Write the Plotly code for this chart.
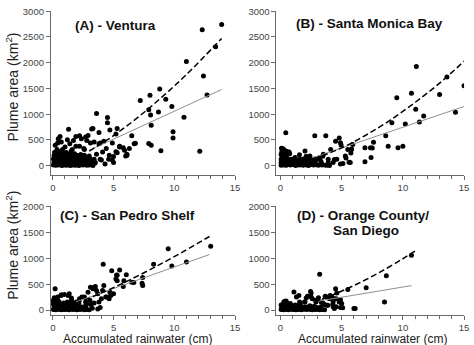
import plotly.graph_objects as go

# ---------------- data ----------------
# Panel A - Ventura
a_x = [12.3,13.9,13.4,11.0,12.4,12.7,10.8,12.1,8.8,8.0,7.2,9.3,7.9,8.7,9.8,8.05,8.1,9.9,
       9.9,7.9,8.1,8.9,6.8,6.5,6.3,6.0,3.6,4.5,4.5,4.7,5.3,5.2,3.3,1.3,2.2,2.7,
       3.1,3.8,4.2,3.9,4.9,5.5,5.8,5.3,5.0,4.6,4.1,3.6,3.4,3.0,2.6,2.3,1.9,1.6,1.2,0.8,
       0.4,0.35,0.6,0.9,1.5,2.0,2.4,2.8,3.5,3.9,4.3,5.0,6.1,
       5.9,6.1,6.7,5.5,5.2,4.4,4.65,4.9,4.0,3.2,2.9,1.9,2.35,2.8,3.4,3.8,0.45,0.7,0.2,1.4,1.7,1.0,2.2,2.55,
       0.05,0.15,0.25,0.35,0.45,0.55,0.65,0.75,0.85,0.95,1.05,1.15,1.25,1.35,1.45,1.55,1.65,1.75,1.85,1.95,2.05,2.15,2.3,2.45,2.6,2.8,3.0,3.3,
       0.1,0.2,0.3,0.4,0.5,0.6,0.7,0.8,0.9,1.0,1.1,1.2,1.3,1.4,1.5,1.6,1.7,1.8,1.9,2.0,2.1,2.25,2.4,2.55,2.7,2.9,3.15,3.45,
       0.05,0.2,0.35,0.5,0.65,0.8,0.95,1.1,1.25,1.4,1.55,1.7,1.85,2.0,2.15,2.3,2.5,2.65,2.85,3.05,0.3,1.0,
       0.1,0.3,0.5,0.7,0.9,1.2,1.4,1.6,1.8,2.05,2.3,2.6,0.15,0.6,1.1,1.5]
a_y = [2640,2741,2310,2026,1741,1374,943,279,1488,1367,1266,1291,1089,1044,1152,987,785,658,
       538,430,399,291,437,582,335,190,1013,937,835,696,722,614,722,709,582,557,
       443,646,475,443,443,380,348,253,177,127,266,222,127,190,316,190,380,316,506,316,
       443,316,570,222,222,127,95,63,63,127,32,63,222,
       301,206,429,366,271,334,206,111,111,715,588,569,525,492,461,429,525,461,397,429,492,366,378,334,
       15,30,8,25,12,35,20,5,28,14,22,9,31,18,6,26,13,33,10,24,17,7,29,12,20,8,15,5,
       70,85,60,95,75,65,90,80,55,100,70,88,62,78,95,68,84,58,92,74,66,86,60,80,72,55,65,50,
       130,150,120,160,140,125,155,135,145,120,165,130,150,140,125,160,130,145,120,135,190,185,
       200,215,230,195,240,205,225,210,235,200,220,205,260,270,255,280]
a_dash_x = [3.0, 5.0, 7.0, 9.0, 11.0, 13.9]
a_dash_y = [285, 585, 938, 1336, 1770, 2470]
a_lin_x = [3.0, 13.9]
a_lin_y = [300, 1480]

# Panel B - Santa Monica Bay
b_x = [11.1,15.0,13.6,13.0,10.7,9.5,11.05,11.7,14.3,11.35,10.2,9.1,8.6,8.8,9.6,10.0,7.6,7.35,6.9,7.4,
       6.9,0.43,2.8,3.7,4.8,4.9,4.5,4.1,5.9,5.8,5.5,5.3,4.6,4.3,4.9,5.7,3.5,3.2,3.0,3.9,
       2.4,2.0,1.6,1.2,0.7,0.55,0.2,0.14,0.27,0.95,1.9,2.7,3.4,3.8,
       5.8,5.75,7.5,5.35,5.6,5.1,4.4,3.9,3.3,3.45,2.8,2.1,1.55,1.15,0.75,0.35,0.2,4.95,
       0.05,0.15,0.25,0.35,0.45,0.55,0.65,0.8,0.95,1.1,1.25,1.4,1.55,1.7,1.85,2.0,2.15,2.3,2.5,2.7,2.9,3.1,3.4,3.7,4.0,
       0.05,0.15,0.3,0.45,0.6,0.75,0.9,1.05,1.2,1.35,1.5,1.65,1.8,1.95,2.1,2.25,2.4,2.6,2.85,
       0.05,0.12,0.2,0.3,0.4,0.5,0.6,0.7,0.85,1.0,1.3,1.6,1.9,2.2,2.5,
       0.05,0.1,0.15,0.25,0.35,0.5,0.08,0.18]
b_y = [1927,1553,1724,1382,1407,1319,1097,964,1040,850,812,837,583,380,349,380,456,349,349,158,
       76,640,583,583,539,444,476,317,412,317,317,190,127,63,32,63,222,158,127,127,
       190,285,127,158,266,222,178,330,317,95,63,44,32,13,
       323,247,342,152,70,44,120,57,89,184,133,184,215,152,234,247,323,405,
       10,25,15,30,8,20,35,12,28,18,6,24,14,32,10,22,16,5,26,12,20,8,15,10,5,
       60,80,55,95,70,50,85,65,75,55,90,60,70,50,80,65,55,72,60,
       120,160,140,180,110,150,130,115,125,105,110,120,130,140,115,
       220,260,300,240,210,280,340,330]
b_dash_x = [2.7, 5.0, 7.0, 9.0, 11.0, 13.0, 15.0]
b_dash_y = [130, 347, 597, 891, 1230, 1603, 2030]
b_lin_x = [2.7, 15.0]
b_lin_y = [160, 1150]

# Panel C - San Pedro Shelf
c_x = [13.0,9.5,4.15,8.3,9.8,11.0,5.5,4.85,5.25,6.05,5.3,6.5,5.8,7.4,7.35,7.4,4.2,3.5,3.3,3.6,
       3.1,4.7,5.0,4.45,4.0,3.8,3.9,3.4,3.05,2.7,2.4,2.15,1.9,1.55,1.35,0.67,0.19,0.95,0.4,1.2,
       1.6,2.55,3.25,2.8,
       5.3,3.4,4.1,4.36,4.64,4.77,3.7,2.9,2.6,2.2,1.93,1.53,1.26,0.71,3.15,3.7,2.74,5.85,5.2,6.67,
       0.05,0.15,0.25,0.35,0.45,0.55,0.65,0.75,0.85,0.95,1.05,1.15,1.25,1.35,1.5,1.65,1.8,1.95,2.1,2.25,2.4,2.6,2.8,3.0,
       0.1,0.2,0.3,0.4,0.5,0.6,0.7,0.8,0.9,1.0,1.1,1.2,1.3,1.45,1.6,1.75,1.9,2.05,2.2,2.35,2.5,2.7,
       0.05,0.15,0.3,0.45,0.6,0.75,0.9,1.1,1.3,1.5,1.7,1.9,2.1,
       0.05,0.1,0.2,0.35,0.5,0.12]
c_y = [1230,1186,883,883,852,928,776,757,675,681,568,536,454,631,517,473,473,454,410,379,
       441,347,316,252,221,158,50,139,189,158,252,126,95,189,316,284,410,303,252,158,
       63,50,38,126,
       673,440,377,251,220,283,315,346,251,220,157,232,283,296,107,19,94,566,598,534,
       10,25,8,20,30,12,22,5,28,15,10,24,18,6,26,12,20,8,16,10,22,5,14,8,
       60,75,50,85,65,55,80,70,50,90,60,72,55,80,65,50,75,60,70,55,62,50,
       120,140,110,150,125,105,135,115,130,110,125,105,115,
       180,210,170,195,165,240]
c_dash_x = [1.9, 4.0, 6.0, 8.0, 10.0, 12.9]
c_dash_y = [130, 328, 545, 780, 1031, 1420]
c_lin_x = [1.9, 12.9]
c_lin_y = [158, 1073]

# Panel D - Orange County / San Diego
d_x = [10.7,8.65,3.2,7.0,5.5,4.5,4.6,8.5,6.1,5.0,4.9,4.2,4.05,3.65,3.1,2.9,2.5,2.2,1.5,1.1,
       0.46,0.27,0.8,1.6,2.0,2.6,3.5,3.8,4.3,4.9,3.3,2.75,4.3,4.55,
       2.46,1.3,2.1,2.5,3.73,4.0,4.4,2.9,3.33,3.6,3.86,4.27,4.54,4.8,5.08,6.0,4.4,1.97,1.56,0.62,0.35,
       0.05,0.15,0.25,0.35,0.45,0.55,0.65,0.75,0.85,0.95,1.05,1.15,1.25,1.35,1.45,1.55,1.7,1.85,2.0,2.15,2.3,2.45,2.6,2.75,2.9,3.05,3.2,3.4,3.6,
       0.1,0.2,0.3,0.4,0.5,0.6,0.7,0.8,0.9,1.0,1.1,1.2,1.3,1.4,1.5,1.6,1.75,1.9,2.05,2.2,2.35,2.55,2.7,2.85,3.0,
       0.05,0.2,0.4,0.6,0.85,1.2,1.5,2.4]
d_y = [1060,662,694,429,398,410,328,158,32,126,202,252,284,265,240,158,328,265,284,347,
       177,158,126,126,158,221,126,95,63,50,63,76,158,221,
       358,251,233,251,251,220,220,189,157,107,94,107,63,157,44,32,32,157,157,126,170,
       10,22,8,18,28,12,5,20,15,25,10,18,6,22,12,28,8,16,20,10,25,14,6,18,10,22,8,14,5,
       50,65,45,75,55,40,70,60,45,80,50,62,42,70,55,48,65,40,58,50,68,45,55,40,50,
       100,110,95,105,90,100,95,85]
d_dash_x = [2.7, 4.0, 6.0, 8.0, 10.0, 11.1]
d_dash_y = [150, 265, 475, 716, 991, 1155]
d_lin_x = [2.7, 10.7]
d_lin_y = [158, 473]

panel_titles = ["(A) - Ventura", "(B) - Santa Monica Bay", "(C) - San Pedro Shelf",
                "(D) - Orange County/", "San Diego"]
y_title = "Plume area (km<sup>2</sup>)"
x_title = "Accumulated rainwater (cm)"
x_ticks = [0, 5, 10, 15]

# ---------------- figure ----------------
W, H = 474, 345
FONT = "Liberation Sans, Arial, Helvetica, sans-serif"
AXC = "#6a6a6a"

fig = go.Figure()
panels = [
    (a_x, a_y, a_dash_x, a_dash_y, a_lin_x, a_lin_y, "x", "y"),
    (b_x, b_y, b_dash_x, b_dash_y, b_lin_x, b_lin_y, "x2", "y2"),
    (c_x, c_y, c_dash_x, c_dash_y, c_lin_x, c_lin_y, "x3", "y3"),
    (d_x, d_y, d_dash_x, d_dash_y, d_lin_x, d_lin_y, "x4", "y4"),
]
for px, py, dx, dy, lx, ly, xa, ya in panels:
    fig.add_trace(go.Scatter(x=px, y=py, mode="markers", xaxis=xa, yaxis=ya,
                             marker=dict(size=5, color="black", line=dict(width=0)),
                             showlegend=False, hoverinfo="skip"))
    fig.add_trace(go.Scatter(x=lx, y=ly, mode="lines", xaxis=xa, yaxis=ya,
                             line=dict(color="#8f8f8f", width=1),
                             showlegend=False, hoverinfo="skip"))
    fig.add_trace(go.Scatter(x=dx, y=dy, mode="lines", xaxis=xa, yaxis=ya,
                             line=dict(color="black", width=1.5, dash="6px,3px", shape="spline"),
                             showlegend=False, hoverinfo="skip"))

def px_x(p):
    return p / W

def px_y(p):
    return 1 - p / H

def xaxis(domain, rng):
    return dict(domain=domain, range=rng, tickvals=x_ticks, showgrid=False, zeroline=False,
                showline=True, linecolor=AXC, linewidth=1, ticks="outside", ticklen=4,
                tickcolor=AXC, tickfont=dict(size=9.5, color="#444", family=FONT),
                minor=dict(ticks="outside", dtick=1, ticklen=2.5, tickcolor=AXC))

def yaxis(domain, rng, anchor):
    return dict(domain=domain, range=rng, dtick=500, showgrid=False, zeroline=False,
                showline=True, linecolor=AXC, linewidth=1, ticks="outside", ticklen=4,
                tickcolor=AXC, tickfont=dict(size=9.5, color="#444", family=FONT),
                anchor=anchor)

xl = [px_x(50.5), px_x(237)]
xr = [px_x(279), px_x(469)]
yt = [px_y(172), px_y(5.3)]
yb = [px_y(314.5), px_y(204)]

fig.update_layout(
    width=W, height=H, margin=dict(l=0, r=0, t=0, b=0),
    paper_bgcolor="white", plot_bgcolor="white",
    font=dict(family=FONT, color="#222"),
    xaxis=dict(xaxis(xl, [-0.16, 15]), anchor="y"),
    yaxis=yaxis(yt, [-180, 3000], "x"),
    xaxis2=dict(xaxis(xr, [-0.33, 15]), anchor="y2"),
    yaxis2=yaxis(yt, [-180, 3000], "x2"),
    xaxis3=dict(xaxis(xl, [-0.16, 15]), anchor="y3"),
    yaxis3=yaxis(yb, [-95, 2000], "x3"),
    xaxis4=dict(xaxis(xr, [-0.33, 15]), anchor="y4"),
    yaxis4=yaxis(yb, [-95, 2000], "x4"),
)

ann = []
title_pos = [(116, 20), (373, 18), (128, 213), (367, 213), (370, 228)]
for t, (cx, cy) in zip(panel_titles, title_pos):
    ann.append(dict(text="<b>%s</b>" % t, x=px_x(cx), y=px_y(cy), xref="paper", yref="paper",
                    showarrow=False, xanchor="center", yanchor="middle", align="center",
                    font=dict(size=13.5, color="#111", family=FONT)))
for cy in (82, 243):
    ann.append(dict(text=y_title, x=px_x(11), y=px_y(cy), xref="paper", yref="paper",
                    showarrow=False, textangle=-90, xanchor="center", yanchor="middle",
                    font=dict(size=14, color="#222", family=FONT)))
for cx in (138, 376):
    ann.append(dict(text=x_title, x=px_x(cx), y=px_y(339), xref="paper", yref="paper",
                    showarrow=False, xanchor="center", yanchor="middle",
                    font=dict(size=12, color="#222", family=FONT)))
fig.update_layout(annotations=ann)

fig.write_html("out.html")
